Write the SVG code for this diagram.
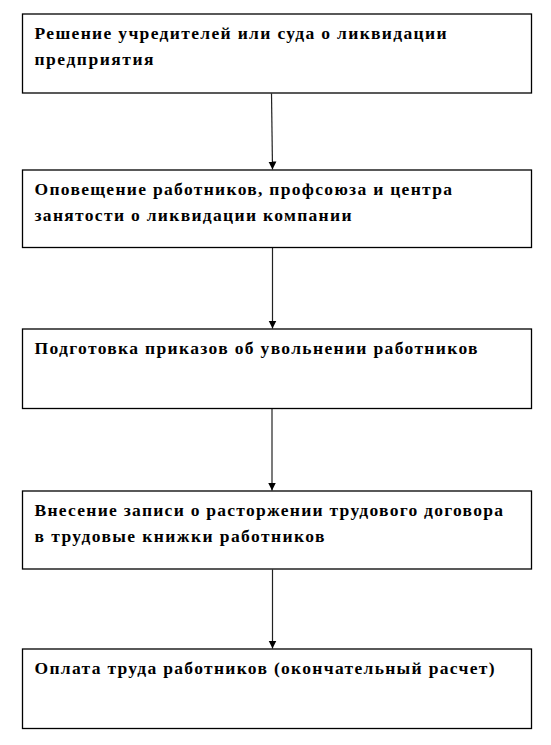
<svg xmlns="http://www.w3.org/2000/svg" width="551" height="745" viewBox="0 0 551 745">
<style>
.box{fill:#fff;stroke:#000;stroke-width:1.3}
.t{font-family:"Liberation Serif","Times New Roman",serif;font-weight:bold;font-size:17.5px;fill:#000}
.c{stroke:#222;stroke-width:1.2;fill:none}
</style>
<defs>
<marker id="ah" markerWidth="8" markerHeight="9" refX="8" refY="4" orient="auto" markerUnits="userSpaceOnUse" viewBox="0 0 8 8">
<path d="M0,0 L8,4 L0,8 Z" fill="#000"/>
</marker>
</defs>
<rect width="551" height="745" fill="#fff"/>
<g id="connectors">
<line class="c" x1="271.5" y1="93.5" x2="272.5" y2="169.5" marker-end="url(#ah)"/>
<line class="c" x1="272.5" y1="248" x2="272.5" y2="328.5" marker-end="url(#ah)"/>
<line class="c" x1="272" y1="409" x2="272" y2="490.5" marker-end="url(#ah)"/>
<line class="c" x1="272.5" y1="569.5" x2="272.5" y2="648.5" marker-end="url(#ah)"/>
</g>
<g id="n1">
<rect class="box" x="22.5" y="14" width="509" height="79"/>
<text class="t" x="34.5" y="39" textLength="412" lengthAdjust="spacing">Решение учредителей или суда о ликвидации</text>
<text class="t" x="34.5" y="65" textLength="119" lengthAdjust="spacing">предприятия</text>
</g>
<g id="n2">
<rect class="box" x="22.5" y="170" width="509" height="77.5"/>
<text class="t" x="34.5" y="195" textLength="417.5" lengthAdjust="spacing">Оповещение работников, профсоюза и центра</text>
<text class="t" x="34.5" y="221" textLength="317" lengthAdjust="spacing">занятости о ликвидации компании</text>
</g>
<g id="n3">
<rect class="box" x="22.5" y="329" width="509" height="79.5"/>
<text class="t" x="34.5" y="354" textLength="443" lengthAdjust="spacing">Подготовка приказов об увольнении работников</text>
</g>
<g id="n4">
<rect class="box" x="22.5" y="491" width="509" height="78"/>
<text class="t" x="34.5" y="516" textLength="468.5" lengthAdjust="spacing">Внесение записи о расторжении трудового договора</text>
<text class="t" x="34.5" y="542" textLength="290" lengthAdjust="spacing">в трудовые книжки работников</text>
</g>
<g id="n5">
<rect class="box" x="22.5" y="649" width="509" height="79.5"/>
<text class="t" x="34.5" y="674" textLength="460" lengthAdjust="spacing">Оплата труда работников (окончательный расчет)</text>
</g>
</svg>
